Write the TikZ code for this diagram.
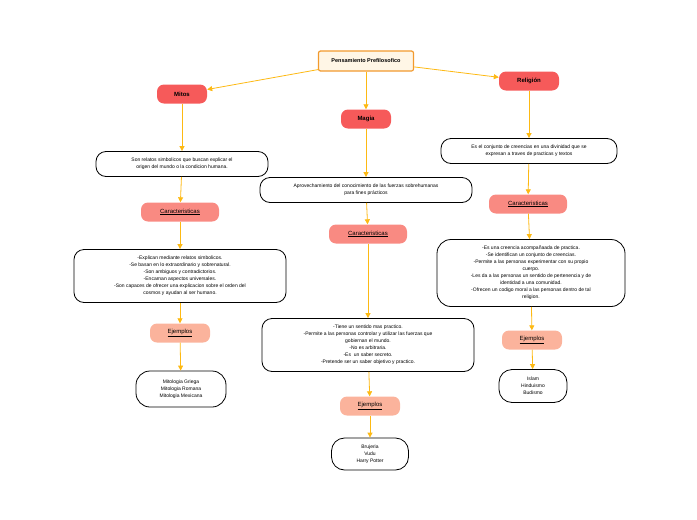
\documentclass[tikz,border=0pt]{standalone}
\usepackage{fontspec}
\setmainfont{Liberation Sans}
\usetikzlibrary{arrows.meta,positioning}
\definecolor{titleorange}{HTML}{F29A2E}
\definecolor{titlefill}{HTML}{FFF6E6}
\definecolor{topicred}{HTML}{F65A5A}
\definecolor{carred}{HTML}{F98A82}
\definecolor{ejsalmon}{HTML}{FBB39C}
\definecolor{linkyellow}{HTML}{FDB913}
\tikzset{
    % Boxes
    title box/.style={draw=titleorange,line width=1.2pt,fill=titlefill,rounded corners=2pt,minimum width=95pt,minimum height=20pt,font=\fontsize{5.5}{6.5}\selectfont\bfseries\rmfamily},
    topic/.style={fill=topicred,rounded corners=7pt,minimum height=19pt,font=\fontsize{6}{7}\selectfont\bfseries},
    car/.style={fill=carred,rounded corners=7pt,minimum width=78pt,minimum height=19pt,font=\fontsize{6}{7}\selectfont},
    ej/.style={fill=ejsalmon,rounded corners=7pt,minimum width=60pt,minimum height=19pt,font=\fontsize{6}{7}\selectfont},
    textbox/.style={draw,thick,rounded corners=10pt,align=center,inner sep=3pt,font=\fontsize{5}{7}\selectfont},
    %
    % Arrows
    link/.style={-{Triangle[length=5pt,width=5pt]},linkyellow,thick},
}
\newcommand{\undl}[1]{\underline{#1}}
\begin{document}
\begin{tikzpicture}[x=1pt,y=-1pt]
    \useasboundingbox (0,0) rectangle (697,520);
    \node[title box] (title) at (366,61) {Pensamiento Prefilosofico};
    \node[topic,minimum width=50pt] (mitos) at (182,94) {Mitos};
    \node[topic,minimum width=50pt] (magia) at (366,119) {Magia};
    \node[topic,minimum width=60pt] (religion) at (529,81) {Religión};
    %
    % Mitos
    \node[textbox,minimum width=172pt,minimum height=25pt] (mitosdesc) at (182,164) {Son relatos simbolicos que buscan explicar el\\origen del mundo o la condicion humana.};
    \node[car] (mitoscar) at (180,212) {\undl{Caracteristicas}};
    \node[textbox,minimum width=212pt,minimum height=53pt] (mitoslist) at (180,276) {-Explican mediante relatos simbolicos.\\-Se basan en lo extraordinario y sobrenatural.\\-Son ambiguos y contradictorios.\\-Encarnan aspectos universales.\\-Son capaces de ofrecer una explicacion sobre el orden del\\cosmos y ayudan al ser humano.};
    \node[ej] (mitosej) at (180,333) {\undl{Ejemplos}};
    \node[textbox,minimum width=90pt,minimum height=36pt,rounded corners=14pt] (mitosex) at (181,389) {Mitologia Griega\\Mitologia Romana\\Mitologia Mexicana};
    %
    % Magia
    \node[textbox,minimum width=212pt,minimum height=25pt] (magiadesc) at (366,190) {Aprovechamiento del conocimiento de las fuerzas sobrehumanas\\para fines prácticos};
    \node[car] (magiacar) at (368,234) {\undl{Caracteristicas}};
    \node[textbox,minimum width=212pt,minimum height=53pt] (magialist) at (368,345) {-Tiene un sentido mas practico.\\-Permite a las personas controlar y utilizar las fuerzas que\\gobiernan el mundo.\\-No es arbitraria.\\-Es \ un saber secreto.\\-Pretende ser un saber objetivo y practico.};
    \node[ej] (magiaej) at (370,406) {\undl{Ejemplos}};
    \node[textbox,minimum width=77pt,minimum height=32pt,rounded corners=13pt] (magiaex) at (370,454) {Brujeria\\Vudu\\Harry Potter};
    %
    % Religion
    \node[textbox,minimum width=176pt,minimum height=25pt] (reldesc) at (529,151) {Es el conjunto de creencias en una divinidad que se\\expresan a traves de practicas y textos};
    \node[car] (relcar) at (528,204) {\undl{Caracteristicas}};
    \node[textbox,minimum width=188pt,minimum height=67pt,rounded corners=14pt] (rellist) at (531,273) {-Es una creencia acompañaada de practica.\\-Se identifican un conjunto de creencias.\\-Permite a las personas experimentar con su propio\\cuerpo.\\-Les da a las personas un sentido de pertenencia y de\\identidad a una comunidad.\\-Ofrecen un codigo moral a las personas dentro de tal\\religion.};
    \node[ej] (relej) at (532,340) {\undl{Ejemplos}};
    \node[textbox,minimum width=68pt,minimum height=33pt,rounded corners=13pt] (relex) at (533,386) {Islam\\Hinduismo\\Budismo};
    %
    % Links
    \draw[link] (title) -- (mitos);
    \draw[link] (title) -- (magia);
    \draw[link] (title) -- (religion);
    \foreach \a/\b in {mitos/mitosdesc,mitosdesc/mitoscar,mitoscar/mitoslist,mitoslist/mitosej,mitosej/mitosex,
        magia/magiadesc,magiadesc/magiacar,magiacar/magialist,magialist/magiaej,magiaej/magiaex,
        religion/reldesc,reldesc/relcar,relcar/rellist,rellist/relej,relej/relex}
        \draw[link] (\a) -- (\b);
\end{tikzpicture}
\end{document}
